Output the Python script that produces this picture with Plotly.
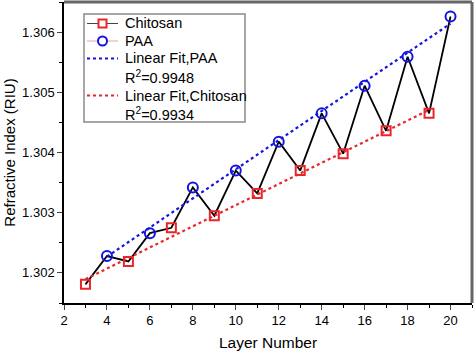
import numpy as np
import plotly.graph_objects as go

# Data
chitosan_layers = [3, 5, 7, 9, 11, 13, 15, 17, 19]
chitosan_ri = [1.30181, 1.30219, 1.30275, 1.30295, 1.30332, 1.30370, 1.30398, 1.30436, 1.30465]
paa_layers = [4, 6, 8, 10, 12, 14, 16, 18, 20]
paa_ri = [1.30228, 1.30266, 1.30342, 1.30370, 1.30418, 1.30465, 1.30511, 1.30559, 1.30626]
legend_texts = ["Chitosan", "PAA", "Linear Fit,PAA", "R<sup>2</sup>=0.9948",
                "Linear Fit,Chitosan", "R<sup>2</sup>=0.9934"]
x_ticks = [2, 4, 6, 8, 10, 12, 14, 16, 18, 20]
y_ticks = [1.302, 1.303, 1.304, 1.305, 1.306]

all_pts = sorted(list(zip(chitosan_layers, chitosan_ri)) + list(zip(paa_layers, paa_ri)))
all_x = [p[0] for p in all_pts]
all_y = [p[1] for p in all_pts]

pc = np.polyfit(paa_layers, paa_ri, 1)
cc = np.polyfit(chitosan_layers, chitosan_ri, 1)
px = [paa_layers[0], paa_layers[-1]]
cx = [chitosan_layers[0], chitosan_layers[-1]]

BLUE = "#1414e0"
RED = "#e8262b"
FONT = "Liberation Sans, Arial, sans-serif"

W, H = 474, 352
ML, MR, MT, MB = 64, 2, 2, 49
PW, PH = W - ML - MR, H - MT - MB

def fx(p):
    return (p - ML) / PW

def fy(p):
    return 1 - (p - MT) / PH

fig = go.Figure()
fig.add_trace(go.Scatter(x=all_x, y=all_y, mode="lines",
                         line=dict(color="black", width=1.8), showlegend=False, hoverinfo="skip"))
fig.add_trace(go.Scatter(x=px, y=list(np.polyval(pc, px)), mode="lines", name="Linear Fit,PAA",
                         line=dict(color=BLUE, width=2.2, dash="dot"), showlegend=False))
fig.add_trace(go.Scatter(x=cx, y=list(np.polyval(cc, cx)), mode="lines", name="Linear Fit,Chitosan",
                         line=dict(color=RED, width=2.2, dash="dot"), showlegend=False))
fig.add_trace(go.Scatter(x=chitosan_layers, y=chitosan_ri, mode="markers", name="Chitosan",
                         marker=dict(symbol="square-open", size=9, color=RED, line=dict(width=2, color=RED)),
                         showlegend=False))
fig.add_trace(go.Scatter(x=paa_layers, y=paa_ri, mode="markers", name="PAA",
                         marker=dict(symbol="circle-open", size=10, color=BLUE, line=dict(width=2, color=BLUE)),
                         showlegend=False))

# Legend drawn as layout decoration
rows = [23.5, 41, 58.5, 77, 95.5, 114]
shapes = [
    dict(type="rect", xref="paper", yref="paper", x0=fx(84), x1=fx(245), y0=fy(122), y1=fy(14),
         line=dict(color="#8a8a8a", width=1.5), fillcolor="white", layer="above"),
    dict(type="line", xref="paper", yref="paper", x0=fx(87), x1=fx(118), y0=fy(rows[0]), y1=fy(rows[0]),
         line=dict(color="#444444", width=1), layer="above"),
    dict(type="rect", xref="paper", yref="paper", x0=fx(98.5), x1=fx(106.5), y0=fy(rows[0] + 4), y1=fy(rows[0] - 4),
         line=dict(color=RED, width=2), fillcolor="white", layer="above"),
    dict(type="line", xref="paper", yref="paper", x0=fx(87), x1=fx(118), y0=fy(rows[1]), y1=fy(rows[1]),
         line=dict(color="#f0a0a0", width=1), layer="above"),
    dict(type="circle", xref="paper", yref="paper", x0=fx(98), x1=fx(107), y0=fy(rows[1] + 4.5), y1=fy(rows[1] - 4.5),
         line=dict(color=BLUE, width=2), fillcolor="white", layer="above"),
    dict(type="line", xref="paper", yref="paper", x0=fx(87), x1=fx(118), y0=fy(rows[2]), y1=fy(rows[2]),
         line=dict(color=BLUE, width=2.2, dash="dot"), layer="above"),
    dict(type="line", xref="paper", yref="paper", x0=fx(87), x1=fx(118), y0=fy(rows[4]), y1=fy(rows[4]),
         line=dict(color=RED, width=2.2, dash="dot"), layer="above"),
    dict(type="line", xref="paper", yref="paper", x0=0, x1=1, y0=1, y1=1,
         line=dict(color="#666666", width=3)),
    dict(type="line", xref="paper", yref="paper", x0=1, x1=1, y0=0, y1=1,
         line=dict(color="#666666", width=3)),
]
annotations = [
    dict(text=t, xref="paper", yref="paper", x=fx(123), y=fy(r), xanchor="left", yanchor="middle",
         showarrow=False, font=dict(size=14.5, family=FONT, color="black"))
    for t, r in zip(legend_texts, rows)
]

fig.update_layout(
    width=W, height=H,
    margin=dict(l=ML, r=MR, t=MT, b=MB),
    paper_bgcolor="white", plot_bgcolor="white",
    font=dict(family=FONT, size=13, color="black"),
    showlegend=False,
    xaxis=dict(range=[2, 21], tickvals=x_ticks, ticks="outside", ticklen=5, tickwidth=1,
               showline=True, linecolor="black", linewidth=1.5, showgrid=False, zeroline=False,
               minor=dict(dtick=1, ticks="outside", ticklen=3, tickcolor="black", showgrid=False),
               title=dict(text="Layer Number", font=dict(size=15.5), standoff=10),
               tickfont=dict(size=13)),
    yaxis=dict(range=[1.3015, 1.3065], tickvals=y_ticks, tickformat=".3f", ticks="outside", ticklen=5, tickwidth=1,
               showline=True, linecolor="black", linewidth=1.5, showgrid=False, zeroline=False,
               minor=dict(dtick=0.0005, ticks="outside", ticklen=3, tickcolor="black", showgrid=False),
               title=dict(text="Refractive Index (RIU)", font=dict(size=15), standoff=3),
               tickfont=dict(size=13)),
    shapes=shapes,
    annotations=annotations,
)

fig.write_html("out.html")
